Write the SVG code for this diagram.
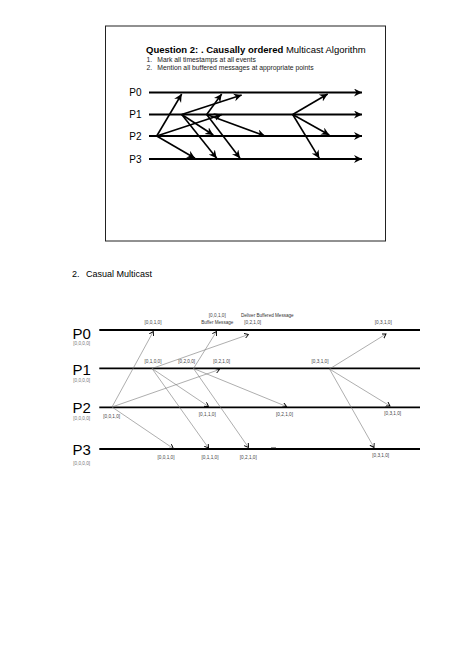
<svg xmlns="http://www.w3.org/2000/svg" width="474" height="670" viewBox="0 0 474 670">
<style>
  text { font-family: "Liberation Sans", Arial, sans-serif; fill: #000; }
  .title { font-size: 9.5px; }
  .item { font-size: 6.8px; fill: #222; }
  .plT { font-size: 10px; }
  .plB { font-size: 15px; }
  .ts { font-size: 4.7px; fill: #444; text-anchor: middle; }
  .ts0 { font-size: 4.7px; fill: #777; text-anchor: middle; }
  .note { font-size: 4.6px; fill: #333; text-anchor: middle; }
  .head { font-size: 9px; }
  .tline { stroke: #000; stroke-width: 2; fill: none; }
  .tmsg { stroke: #000; stroke-width: 1.6; fill: none; }
  .bline { stroke: #000; stroke-width: 1.8; fill: none; }
  .bmsg { stroke: #777; stroke-width: 0.6; fill: none; }
</style>
<defs>
  <marker id="ahT" markerUnits="userSpaceOnUse" markerWidth="10" markerHeight="10" refX="8" refY="4" orient="auto">
    <path d="M0,0 L8,4 L0,8 L2.5,4 z" fill="#000"/>
  </marker>
  <marker id="ahB" markerUnits="userSpaceOnUse" markerWidth="6" markerHeight="6" refX="4" refY="2.5" orient="auto">
    <path d="M0,0 L4,2.5 L0,5" fill="none" stroke="#000" stroke-width="0.9"/>
  </marker>
</defs>
<rect width="474" height="670" fill="#fff"/>

<!-- Top slide -->
<g id="slide-frame">
  <rect x="105.5" y="26" width="280" height="215" fill="none" stroke="#222" stroke-width="1"/>
  <text class="title" x="146" y="52.5"><tspan font-weight="bold">Question 2: . Causally ordered</tspan> Multicast Algorithm</text>
  <text class="item" x="146.5" y="61.5">1.</text>
  <text class="item" x="157.3" y="61.5">Mark all timestamps at all events</text>
  <text class="item" x="146.5" y="70">2.</text>
  <text class="item" x="157.3" y="70">Mention all buffered messages at appropriate points</text>
</g>
<g id="top-P0"><text class="plT" x="129.3" y="96">P0</text><line class="tline" x1="149" y1="92.5" x2="362" y2="92.5" marker-end="url(#ahT)"/></g>
<g id="top-P1"><text class="plT" x="129.3" y="118">P1</text><line class="tline" x1="149" y1="114.5" x2="362" y2="114.5" marker-end="url(#ahT)"/></g>
<g id="top-P2"><text class="plT" x="129.3" y="139.5">P2</text><line class="tline" x1="149" y1="136" x2="362" y2="136" marker-end="url(#ahT)"/></g>
<g id="top-P3"><text class="plT" x="129.3" y="162.5">P3</text><line class="tline" x1="149" y1="159" x2="362" y2="159" marker-end="url(#ahT)"/></g>
<g id="top-connectors">
  <line class="tmsg" x1="156.7" y1="136" x2="181.7" y2="94" marker-end="url(#ahT)"/>
  <line class="tmsg" x1="156.7" y1="136" x2="222" y2="114.5" marker-end="url(#ahT)"/>
  <line class="tmsg" x1="156.7" y1="136" x2="195" y2="158.3" marker-end="url(#ahT)"/>
  <line class="tmsg" x1="181.7" y1="114.5" x2="241.7" y2="95" marker-end="url(#ahT)"/>
  <line class="tmsg" x1="181.7" y1="114.5" x2="213.3" y2="135" marker-end="url(#ahT)"/>
  <line class="tmsg" x1="181.7" y1="114.5" x2="216.7" y2="158.3" marker-end="url(#ahT)"/>
  <line class="tmsg" x1="206.7" y1="114.5" x2="221.7" y2="94" marker-end="url(#ahT)"/>
  <line class="tmsg" x1="206.7" y1="114.5" x2="265" y2="136" marker-end="url(#ahT)"/>
  <line class="tmsg" x1="206.7" y1="114.5" x2="240" y2="158.3" marker-end="url(#ahT)"/>
  <line class="tmsg" x1="292.7" y1="114.5" x2="327.7" y2="94" marker-end="url(#ahT)"/>
  <line class="tmsg" x1="292.7" y1="114.5" x2="329.3" y2="135" marker-end="url(#ahT)"/>
  <line class="tmsg" x1="292.7" y1="114.5" x2="319.3" y2="158.3" marker-end="url(#ahT)"/>
</g>

<text class="head" x="72" y="276.5">2.</text>
<text class="head" x="86" y="276.5">Casual Multicast</text>

<!-- Bottom diagram -->
<g id="P0">
  <text class="plB" x="72.5" y="339">P0</text>
  <text class="ts0" x="81.7" y="344.5">[0,0,0,0]</text>
  <line class="bline" x1="99.3" y1="330" x2="420" y2="330"/>
  <text class="ts" x="153" y="323.5">[0,0,1,0]</text>
  <text class="ts" x="217.3" y="316.5">[0,0,1,0]</text>
  <text class="note" x="217.3" y="323.5">Buffer Message</text>
  <text class="note" x="267.3" y="316.5">Deliver Buffered Message</text>
  <text class="ts" x="252.7" y="323.5">[0,2,1,0]</text>
  <text class="ts" x="383.3" y="323.5">[0,3,1,0]</text>
</g>
<g id="P1">
  <text class="plB" x="72.5" y="375">P1</text>
  <text class="ts0" x="81.7" y="382">[0,0,0,0]</text>
  <line class="bline" x1="99.3" y1="368.3" x2="420" y2="368.3"/>
  <text class="ts" x="153" y="362.5">[0,1,0,0]</text>
  <text class="ts" x="186.7" y="362.5">[0,2,0,0]</text>
  <text class="ts" x="221.7" y="362.5">[0,2,1,0]</text>
  <text class="ts" x="320" y="363">[0,3,1,0]</text>
</g>
<g id="P2">
  <text class="plB" x="72.5" y="413">P2</text>
  <text class="ts0" x="81.7" y="420">[0,0,0,0]</text>
  <line class="bline" x1="99.3" y1="407.3" x2="420" y2="407.3"/>
  <text class="ts" x="111.7" y="418">[0,0,1,0]</text>
  <text class="ts" x="207.3" y="415.5">[0,1,1,0]</text>
  <text class="ts" x="284.5" y="415.5">[0,2,1,0]</text>
  <text class="ts" x="392.7" y="414.5">[0,3,1,0]</text>
</g>
<g id="P3">
  <text class="plB" x="72.5" y="455">P3</text>
  <text class="ts0" x="81.7" y="465">[0,0,0,0]</text>
  <line class="bline" x1="99.3" y1="449" x2="420" y2="449"/>
  <line x1="271" y1="447.6" x2="276" y2="447.6" stroke="#555" stroke-width="0.7"/>
  <text class="ts" x="166" y="459">[0,0,1,0]</text>
  <text class="ts" x="210" y="459">[0,1,1,0]</text>
  <text class="ts" x="248.3" y="459">[0,2,1,0]</text>
  <text class="ts" x="380.7" y="456.5">[0,3,1,0]</text>
</g>
<g id="connectors">
  <line class="bmsg" x1="112" y1="407" x2="153.3" y2="331.5" marker-end="url(#ahB)"/>
  <line class="bmsg" x1="112" y1="407" x2="173.3" y2="448.5" marker-end="url(#ahB)"/>
  <line class="bmsg" x1="112" y1="407" x2="219.5" y2="369.5" marker-end="url(#ahB)"/>
  <line class="bmsg" x1="152" y1="368.5" x2="248.5" y2="334.5" marker-end="url(#ahB)"/>
  <line class="bmsg" x1="152" y1="368.5" x2="208.5" y2="406.5" marker-end="url(#ahB)"/>
  <line class="bmsg" x1="152" y1="368.5" x2="208.5" y2="448" marker-end="url(#ahB)"/>
  <line class="bmsg" x1="193.5" y1="368.5" x2="216.5" y2="331.5" marker-end="url(#ahB)"/>
  <line class="bmsg" x1="193.5" y1="368.5" x2="286.5" y2="406.5" marker-end="url(#ahB)"/>
  <line class="bmsg" x1="193.5" y1="368.5" x2="248.5" y2="447.5" marker-end="url(#ahB)"/>
  <line class="bmsg" x1="329.5" y1="369" x2="386" y2="334" marker-end="url(#ahB)"/>
  <line class="bmsg" x1="329.5" y1="369" x2="390" y2="406" marker-end="url(#ahB)"/>
  <line class="bmsg" x1="329.5" y1="369" x2="374" y2="447.5" marker-end="url(#ahB)"/>
</g>
</svg>
